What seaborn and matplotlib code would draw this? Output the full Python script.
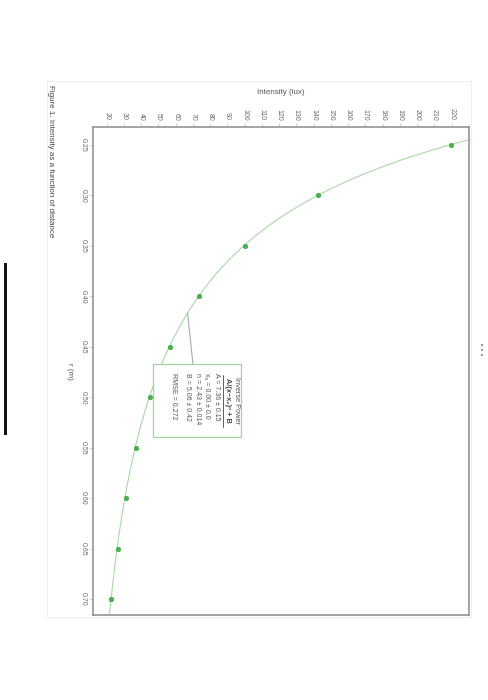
import numpy as np
import pandas as pd
import matplotlib
matplotlib.use("Agg")
import matplotlib.pyplot as plt
from matplotlib.patches import Rectangle
from matplotlib.lines import Line2D
import seaborn as sns

# ---- data ----
r_m = [0.25, 0.30, 0.35, 0.40, 0.45, 0.50, 0.55, 0.60, 0.65, 0.70]
intensity_lux = [219.5, 142.5, 100.3, 73.7, 57.0, 45.4, 37.3, 31.0, 26.4, 22.3]

# fit parameters shown in the annotation box
fit_A = 7.36
fit_x0 = 0.00
fit_n = 2.43
fit_B = 5.06

intensity_ticks = list(range(20, 230, 10))
r_ticks = [0.25, 0.30, 0.35, 0.40, 0.45, 0.50, 0.55, 0.60, 0.65, 0.70]
r_tick_labels = ["0.25", "0.30", "0.35", "0.40", "0.45", "0.50", "0.55", "0.60", "0.65", "0.70"]

box_lines = [
    "A = 7.36 \u00b1 0.15",
    "x\u2080 = 0.00 \u00b1 0.0",
    "n = 2.43 \u00b1 0.014",
    "B = 5.06 \u00b1 0.42",
]
box_title = "Inverse Power"
box_formula = "A/(x\u2212x\u2080)\u207f + B"
box_rmse = "RMSE = 0.272"

# ---- style ----
sns.set_theme(style="white")
plt.rcParams["font.family"] = ["Liberation Sans", "DejaVu Sans"]

W, H = 489, 700
fig = plt.figure(figsize=(W / 100, H / 100), dpi=100)
fig.patch.set_facecolor("white")

def fx(px):
    return px / W

def fy(py):
    return 1 - py / H

ax = fig.add_axes([fx(93), fy(615), (469 - 93) / W, (615 - 127) / H])
ax.set_facecolor("white")

PT = "#45b649"
LINE = "#a9d9a4"
FS = 5.8
FS_TICK = 5.0
FS_BOX = 5.0

df = pd.DataFrame({"intensity": intensity_lux, "r": r_m})

r_grid = np.linspace(0.22, 0.73, 400)
curve = pd.DataFrame({"r": r_grid,
                      "intensity": fit_A / (r_grid - fit_x0) ** fit_n + fit_B})

sns.lineplot(data=curve, x="intensity", y="r", sort=False, estimator=None,
             color=LINE, linewidth=0.8, ax=ax, zorder=2)
sns.scatterplot(data=df, x="intensity", y="r", color=PT, s=11,
                edgecolor="#2e8b35", linewidth=0.3, ax=ax, zorder=3)

ax.set_xlim(12.1, 230.0)
ax.set_ylim(0.7156, 0.2322)

ax.xaxis.tick_top()
ax.set_xticks(intensity_ticks)
ax.set_xticklabels([str(t) for t in intensity_ticks], rotation=-90)
ax.set_yticks(r_ticks)
ax.set_yticklabels(r_tick_labels, rotation=-90, va="center")
ax.tick_params(axis="both", length=3, width=0.6, color="#cccccc",
               labelsize=FS_TICK, labelcolor="#6a6a6a", pad=1.8)
ax.tick_params(axis="x", top=True, bottom=False, labeltop=True, labelbottom=False)
ax.tick_params(axis="y", left=True, right=False)
for s in ax.spines.values():
    s.set_color("#8a8a8a")
    s.set_linewidth(1.1)
ax.grid(False)

ax.set_xlabel("Intensity (lux)", fontsize=FS, color="#555555")
ax.xaxis.set_label_position("top")
ax.xaxis.set_label_coords(0.5, (615 - 93) / 488)
ax.xaxis.label.set_va("center")

ax.set_ylabel("r (m)", fontsize=FS, color="#555555", rotation=-90)
ax.yaxis.set_label_coords((69 - 93) / 376, 0.5)
ax.yaxis.label.set_va("center")
ax.yaxis.label.set_ha("center")

# ---- annotation box (positions in data units) ----
def px2I(px):
    return 20 + (px - 106.7) / 1.725

def py2r(py):
    return 0.25 + (py - 145) / 1009.6

bx0, bx1 = px2I(153), px2I(241)
by0, by1 = py2r(364), py2r(437)
ax.add_patch(Rectangle((bx0, by0), bx1 - bx0, by1 - by0, facecolor="white",
                       edgecolor="#9fd49b", linewidth=0.9, zorder=5))
r_conn = 0.4165
I_conn = fit_A / (r_conn - fit_x0) ** fit_n + fit_B
ax.add_line(Line2D([px2I(193), I_conn], [by0, r_conn], color="#aaaaaa",
                   linewidth=0.8, zorder=4))

yc = py2r(400.5)
ystart = py2r(373)
ax.text(px2I(237), yc, box_title, rotation=-90, ha="center", va="center",
        fontsize=FS_BOX + 0.3, color="#555555", zorder=6)
ax.text(px2I(227.5), yc, box_formula, rotation=-90, ha="center", va="center",
        fontsize=FS_BOX + 0.3, color="#444444", fontweight="bold", zorder=6)
ax.add_line(Line2D([px2I(223.3)] * 2, [py2r(375), py2r(427)], color="#444444",
                   linewidth=0.6, zorder=6))
for col, t in zip([217, 207, 197.5, 188], box_lines):
    ax.text(px2I(col), ystart, t, rotation=-90, ha="center", va="top",
            fontsize=FS_BOX, color="#555555", zorder=6)
ax.text(px2I(174), ystart, box_rmse, rotation=-90, ha="center", va="top",
        fontsize=FS_BOX, color="#555555", zorder=6)

# ---- figure decorations ----
fig.text(fx(50), fy(85), "Figure 1. Intensity as a function of distance",
         rotation=-90, ha="center", va="top", fontsize=FS, color="#444444")
fig.add_artist(Rectangle((fx(47), fy(617)), (471 - 47) / W, (617 - 81) / H,
                         transform=fig.transFigure, fill=False,
                         edgecolor="#eeeeee", linewidth=0.8, zorder=0))
fig.add_artist(Rectangle((fx(4), fy(435)), 3 / W, (435 - 263) / H,
                         transform=fig.transFigure, facecolor="#111111",
                         edgecolor="none", zorder=1))
for py in (345, 350, 355):
    fig.add_artist(Rectangle((fx(481), fy(py + 1)), 2 / W, 2 / H,
                             transform=fig.transFigure, facecolor="#999999",
                             edgecolor="none", zorder=1))

fig.savefig("out.png", dpi=100, facecolor="white")
